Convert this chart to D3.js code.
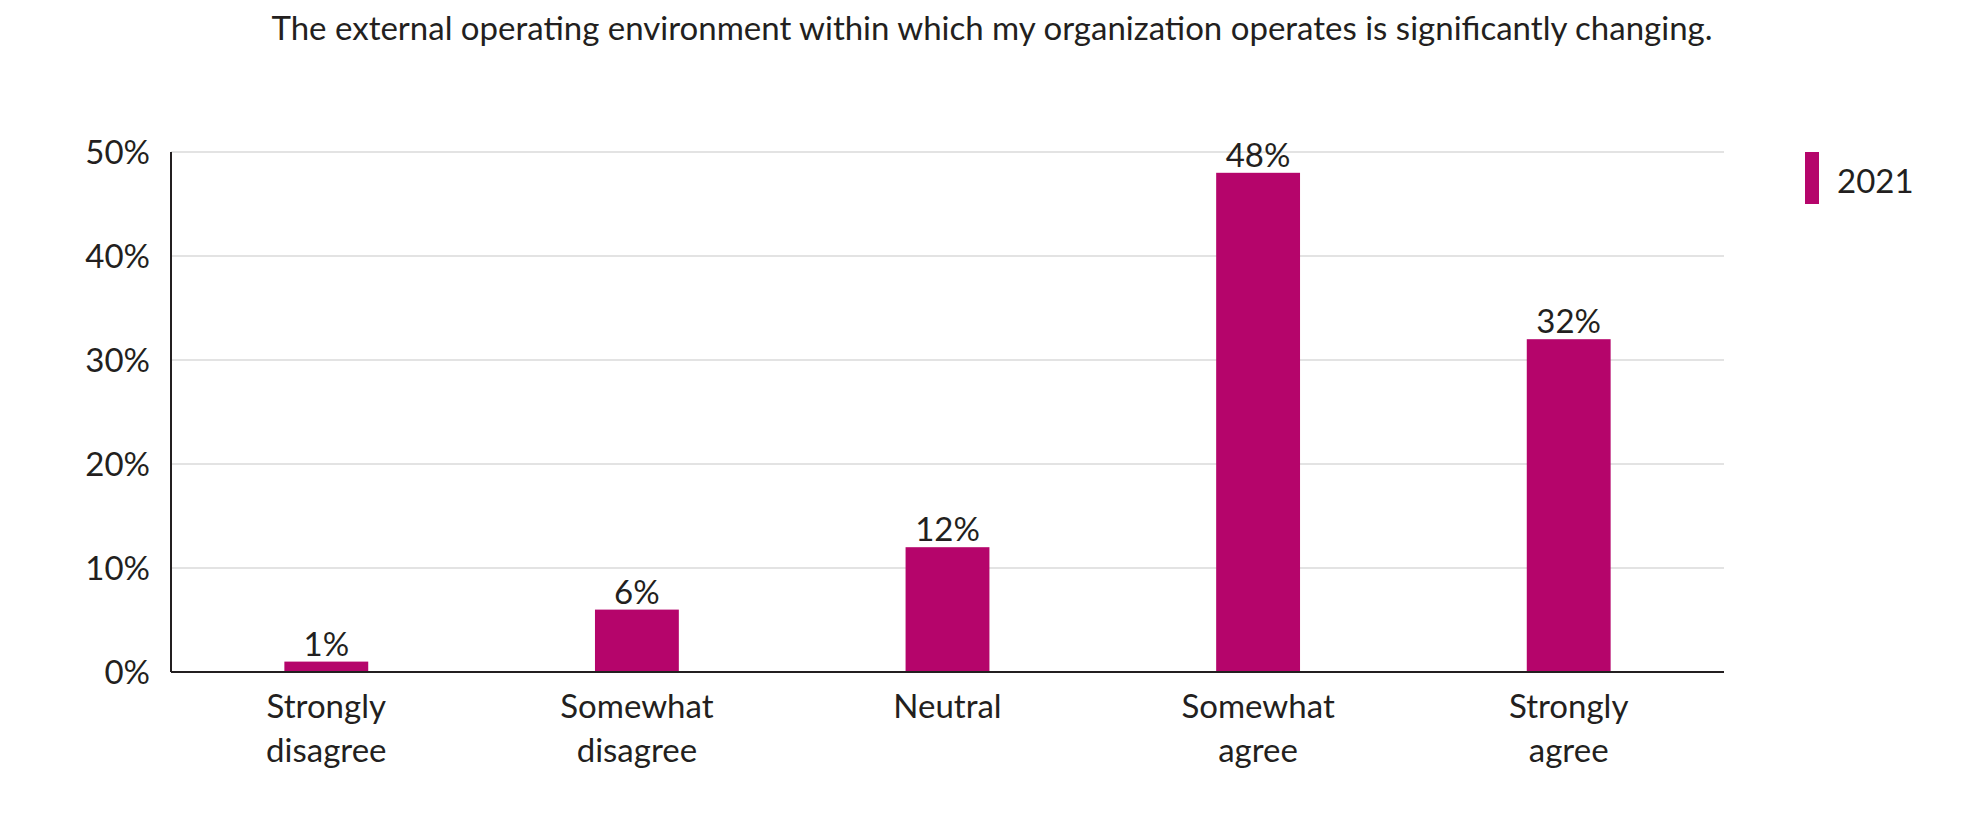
<!DOCTYPE html>
<html><head><meta charset="utf-8">
<script src="https://cdn.jsdelivr.net/npm/d3@7"></script>
<style>body{margin:0;background:#fff}text{font-family:Lato,"Open Sans",sans-serif;fill:#231f20}</style>
</head><body><svg id="chart" width="1984" height="818"></svg>
<script>
const categories = [["Strongly","disagree"],["Somewhat","disagree"],["Neutral"],["Somewhat","agree"],["Strongly","agree"]];
const values = [1, 6, 12, 48, 32];
const yTicks = [0, 10, 20, 30, 40, 50];
const seriesName = "2021";
const title = "The external operating environment within which my organization operates is significantly changing.";

const color = "#b5056b";
const margin = {top: 152, left: 171, right: 260, bottom: 146};
const W = 1984, H = 818;
const svg = d3.select("#chart");

const x = d3.scaleBand().domain(d3.range(values.length))
  .range([margin.left, W - margin.right]).paddingInner(0.73).paddingOuter(0.365);
const y = d3.scaleLinear().domain([0, 50]).range([H - margin.bottom, margin.top]);

svg.append("text").attr("x", 992).attr("y", 40).attr("text-anchor", "middle")
  .attr("font-size", 33).text(title);

// gridlines
svg.append("g").selectAll("line").data(yTicks.slice(1)).join("line")
  .attr("x1", margin.left).attr("x2", W - margin.right)
  .attr("y1", d => y(d)).attr("y2", d => y(d))
  .attr("stroke", "#c8c8c8").attr("stroke-width", 1.2);

// y labels
svg.append("g").selectAll("text").data(yTicks).join("text")
  .attr("x", 150).attr("y", d => y(d) + 12).attr("text-anchor", "end")
  .attr("font-size", 33).text(d => d + "%");

// bars
svg.append("g").selectAll("rect").data(values).join("rect")
  .attr("x", (d, i) => x(i)).attr("width", x.bandwidth())
  .attr("y", d => y(d)).attr("height", d => y(0) - y(d)).attr("fill", color);

svg.append("g").selectAll("text").data(values).join("text")
  .attr("x", (d, i) => x(i) + x.bandwidth() / 2).attr("y", d => y(d) - 6)
  .attr("text-anchor", "middle").attr("font-size", 33).text(d => d + "%");

// axes lines
svg.append("line").attr("x1", margin.left).attr("x2", margin.left)
  .attr("y1", y(50)).attr("y2", y(0)).attr("stroke", "#231f20").attr("stroke-width", 2);
svg.append("line").attr("x1", margin.left).attr("x2", W - margin.right)
  .attr("y1", y(0)).attr("y2", y(0)).attr("stroke", "#231f20").attr("stroke-width", 2);

// category labels
const cl = svg.append("g").selectAll("text").data(categories).join("text")
  .attr("x", (d, i) => x(i) + x.bandwidth() / 2).attr("y", 718)
  .attr("text-anchor", "middle").attr("font-size", 33);
cl.selectAll("tspan").data(d => d).join("tspan")
  .attr("x", function() { return this.parentNode.getAttribute("x"); })
  .attr("dy", (d, i) => i ? 44 : 0).text(d => d);

// legend
svg.append("rect").attr("x", 1805).attr("y", 152).attr("width", 14).attr("height", 52).attr("fill", color);
svg.append("text").attr("x", 1837).attr("y", 193).attr("font-size", 33).text(seriesName);
</script></body></html>
